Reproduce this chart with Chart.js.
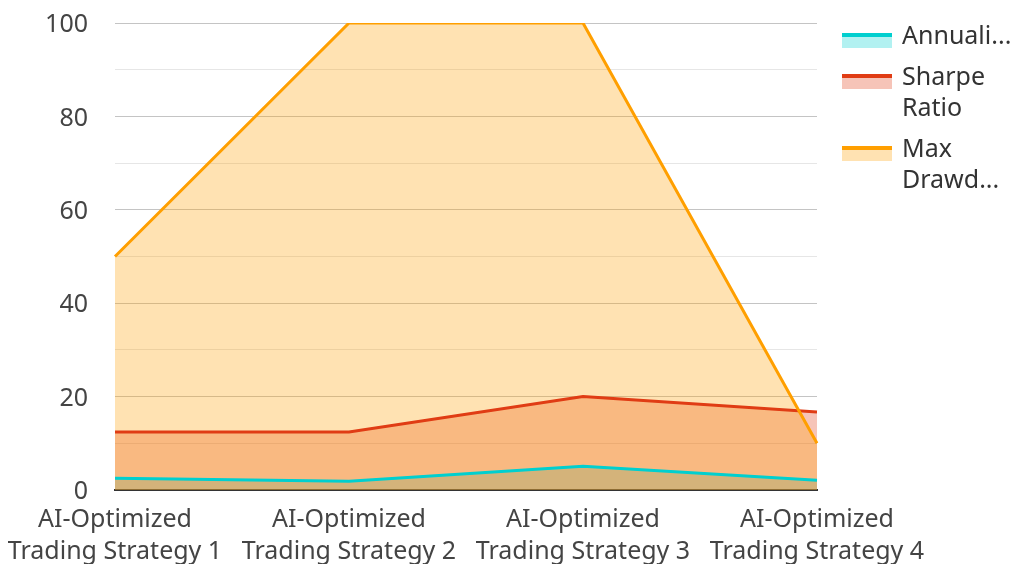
<!DOCTYPE html>
<html>
<head>
<meta charset="utf-8">
<script src="https://cdn.jsdelivr.net/npm/chart.js@4.4.1/dist/chart.umd.min.js"></script>
<style>
    html, body { margin: 0; padding: 0; background: #fff; }
    #wrap { position: relative; width: 1012px; height: 564px; overflow: hidden; }
    #legend { position: absolute; left: 842px; top: 19px; font-family: 'Noto Sans', sans-serif; font-size: 25px; line-height: 31px; color: #333; }
    .row { display: flex; align-items: flex-start; margin-bottom: 10px; }
    .sw { width: 50px; height: 15px; margin-top: 14px; margin-right: 10px; box-sizing: border-box; }
</style>
</head>
<body>
<div id="wrap">
    <canvas id="perfChart" width="1012" height="564"></canvas>
    <div id="legend"></div>
</div>
<script>
// Data
const strategies = [
    ['AI-Optimized', 'Trading Strategy 1'],
    ['AI-Optimized', 'Trading Strategy 2'],
    ['AI-Optimized', 'Trading Strategy 3'],
    ['AI-Optimized', 'Trading Strategy 4']
];
const annualizedReturn = [2.5, 1.9, 5.1, 2.1];
const sharpeRatio = [12.4, 12.4, 20, 16.7];
const maxDrawdown = [50, 100, 100, 10];

const seriesNames = ['Annualized Return', 'Sharpe Ratio', 'Max Drawdown'];
const legendText = [['Annuali...'], ['Sharpe', 'Ratio'], ['Max', 'Drawd...']];
const lineColors = ['#00cfcf', '#e03c14', '#ff9f00'];
const fillColors = ['rgba(0, 207, 207, 0.3)', 'rgba(224, 60, 20, 0.3)', 'rgba(255, 159, 0, 0.3)'];

Chart.defaults.font.family = "'Noto Sans', sans-serif";
Chart.defaults.font.size = 25;
Chart.defaults.color = '#444';

const seriesValues = [annualizedReturn, sharpeRatio, maxDrawdown];

new Chart(document.getElementById('perfChart'), {
    type: 'line',
    data: {
        labels: strategies,
        datasets: seriesNames.map((name, i) => ({
            label: name,
            data: seriesValues[i],
            borderColor: lineColors[i],
            backgroundColor: fillColors[i],
            borderWidth: 3,
            fill: 'origin',
            tension: 0,
            pointRadius: 0,
            order: seriesNames.length - i
        }))
    },
    options: {
        responsive: false,
        animation: false,
        layout: { padding: { top: 0, right: 195, bottom: 0, left: 0 } },
        plugins: {
            legend: { display: false },
            tooltip: { enabled: false },
            filler: { drawTime: 'beforeDatasetsDraw' }
        },
        scales: {
            x: {
                grid: { display: false },
                border: { display: true, color: '#333', width: 2 },
                ticks: { maxRotation: 0, autoSkip: false, padding: 6, font: { lineHeight: 1.28 } },
                afterFit: scale => { scale.height = 74; }
            },
            y: {
                min: 0,
                max: 100,
                grid: {
                    drawTicks: false,
                    color: ctx => (ctx.tick && ctx.tick.value % 20 === 0) ? '#c4c4c4' : '#e6e6e6'
                },
                border: { display: false },
                ticks: {
                    stepSize: 10,
                    padding: 27,
                    labelOffset: 2,
                    callback: v => (v % 20 === 0 ? v : '')
                },
                afterFit: scale => {
                    scale.width = 115;
                    scale.paddingTop = 23;
                    scale.paddingBottom = 0;
                }
            }
        }
    }
});

// Legend
const legendEl = document.getElementById('legend');
seriesNames.forEach((name, i) => {
    const row = document.createElement('div');
    row.className = 'row';
    const sw = document.createElement('div');
    sw.className = 'sw';
    sw.style.background = fillColors[i];
    sw.style.borderTop = '4px solid ' + lineColors[i];
    const txt = document.createElement('div');
    txt.innerHTML = legendText[i].join('<br>');
    txt.title = name;
    row.appendChild(sw);
    row.appendChild(txt);
    legendEl.appendChild(row);
});
</script>
</body>
</html>
